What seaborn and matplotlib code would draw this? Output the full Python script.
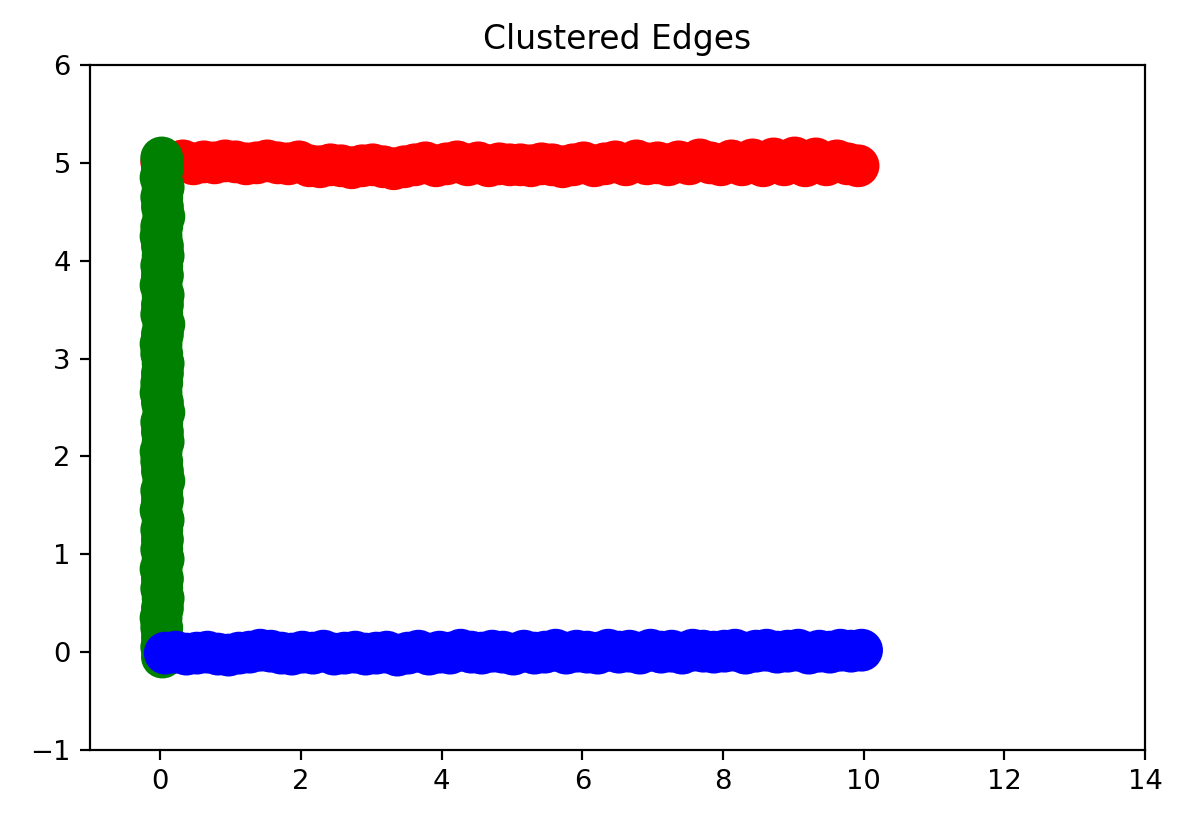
import matplotlib
matplotlib.use("Agg")
import matplotlib.pyplot as plt
import seaborn as sns
import pandas as pd

# ---- data ----
red_x = [0.02, 0.17, 0.32, 0.47, 0.62, 0.77, 0.92, 1.07, 1.22, 1.37, 1.52, 1.67, 1.82, 1.97,
         2.12, 2.27, 2.42, 2.57, 2.72, 2.87, 3.02, 3.17, 3.32, 3.47, 3.62, 3.77, 3.92, 4.07,
         4.22, 4.37, 4.52, 4.67, 4.82, 4.97, 5.12, 5.27, 5.42, 5.57, 5.72, 5.87, 6.02, 6.17,
         6.32, 6.47, 6.62, 6.77, 6.92, 7.07, 7.22, 7.37, 7.52, 7.67, 7.82, 7.97, 8.12, 8.27,
         8.42, 8.57, 8.72, 8.87, 9.02, 9.17, 9.32, 9.47, 9.62, 9.77, 9.92]
red_y = [5.01, 5.00, 5.02, 4.99, 5.01, 5.00, 5.02, 5.01, 4.99, 5.00, 5.02, 5.00, 4.99, 5.01,
         4.97, 4.96, 4.98, 4.97, 4.95, 4.97, 4.98, 4.96, 4.94, 4.96, 4.98, 5.00, 4.97, 4.99,
         5.01, 4.98, 5.00, 4.97, 4.99, 4.98, 4.98, 4.97, 4.99, 4.98, 4.96, 4.98, 5.00, 4.97,
         4.99, 5.01, 4.98, 5.02, 4.99, 5.00, 4.98, 5.01, 4.99, 5.03, 5.00, 4.98, 5.02, 4.98,
         5.03, 4.97, 5.04, 4.98, 5.05, 4.97, 5.04, 4.98, 5.02, 4.99, 4.97]

green_x = [0.02, 0.03, 0.01, 0.04, 0.02, 0.03, 0.05, 0.02, 0.01, 0.03, 0.04, 0.02, 0.03,
           0.01, 0.04, 0.03, 0.02, 0.05, 0.03, 0.01, 0.02, 0.04, 0.03, 0.02, 0.01, 0.03,
           0.05, 0.02, 0.03, 0.04, 0.01, 0.02, 0.03, 0.05, 0.02, 0.03, 0.01, 0.04, 0.02,
           0.03, 0.02, 0.04, 0.01, 0.03, 0.02, 0.04, 0.03, 0.01, 0.02, 0.03, 0.02, 0.03]
green_y = [5.05, 4.95, 4.85, 4.75, 4.65, 4.55, 4.45, 4.35, 4.25, 4.15, 4.05, 3.95, 3.85,
           3.75, 3.65, 3.55, 3.45, 3.35, 3.25, 3.15, 3.05, 2.95, 2.85, 2.75, 2.65, 2.55,
           2.45, 2.35, 2.25, 2.15, 2.05, 1.95, 1.85, 1.75, 1.65, 1.55, 1.45, 1.35, 1.25,
           1.15, 1.05, 0.95, 0.85, 0.75, 0.65, 0.55, 0.45, 0.35, 0.25, 0.15, 0.05, -0.05]

blue_x = [0.07, 0.22, 0.37, 0.52, 0.67, 0.82, 0.97, 1.12, 1.27, 1.42, 1.57, 1.72, 1.87, 2.02,
          2.17, 2.32, 2.47, 2.62, 2.77, 2.92, 3.07, 3.22, 3.37, 3.52, 3.67, 3.82, 3.97, 4.12,
          4.27, 4.42, 4.57, 4.72, 4.87, 5.02, 5.17, 5.32, 5.47, 5.62, 5.77, 5.92, 6.07, 6.22,
          6.37, 6.52, 6.67, 6.82, 6.97, 7.12, 7.27, 7.42, 7.57, 7.72, 7.87, 8.02, 8.17, 8.32,
          8.47, 8.62, 8.77, 8.92, 9.07, 9.22, 9.37, 9.52, 9.67, 9.82, 9.97]
blue_y = [-0.01, 0.00, -0.02, -0.01, 0.00, -0.02, -0.03, -0.01, 0.00, 0.02, 0.01, -0.01, -0.02, 0.00,
          -0.01, 0.01, -0.02, -0.01, 0.00, -0.02, -0.01, 0.00, -0.03, -0.01, 0.01, -0.02, 0.00, -0.01,
          0.02, 0.00, -0.01, 0.01, 0.00, -0.02, 0.01, -0.01, 0.00, 0.02, -0.01, 0.01, 0.00, -0.01,
          0.02, 0.00, 0.01, -0.01, 0.02, 0.00, 0.01, -0.01, 0.02, 0.01, 0.00, 0.01, 0.02, -0.01,
          0.01, 0.02, 0.00, 0.01, 0.02, -0.01, 0.01, 0.00, 0.02, 0.01, 0.02]

edge_names = ["top", "left", "bottom"]
edge_colors = ["red", "green", "blue"]
x_ticks = [0, 2, 4, 6, 8, 10, 12, 14]
y_ticks = [-1, 0, 1, 2, 3, 4, 5, 6]
title = "Clustered Edges"

df = pd.DataFrame({
    "x": red_x + green_x + blue_x,
    "y": red_y + green_y + blue_y,
    "edge": [edge_names[0]] * len(red_x) + [edge_names[1]] * len(green_x) + [edge_names[2]] * len(blue_x),
})

# ---- figure ----
S = 2.74 * 0.72  # scale factor from original 72-dpi inline figure to 100 dpi
plt.rcParams.update({
    "font.size": 10 * S,
    "axes.linewidth": 0.8 * S,
    "xtick.major.size": 3.5 * S,
    "ytick.major.size": 3.5 * S,
    "xtick.major.width": 0.8 * S,
    "ytick.major.width": 0.8 * S,
    "xtick.major.pad": 3.5 * S,
    "ytick.major.pad": 3.5 * S,
})

fig = plt.figure(figsize=(11.84, 8.26), dpi=100)
ax = fig.add_axes([90 / 1184, 1 - 750 / 826, (1145 - 90) / 1184, (750 - 65) / 826])

sns.scatterplot(data=df, x="x", y="y", hue="edge", hue_order=edge_names,
                palette=dict(zip(edge_names, edge_colors)), s=950, linewidth=0,
                legend=False, ax=ax)

ax.set_xlim(-1, 14)
ax.set_ylim(-1, 6)
ax.set_xticks(x_ticks)
ax.set_yticks(y_ticks)
ax.set_xlabel("")
ax.set_ylabel("")
ax.tick_params(labelsize=10 * S)
ax.set_title(title, fontsize=12 * S, pad=6 * S)

fig.savefig("out.png", dpi=100)
